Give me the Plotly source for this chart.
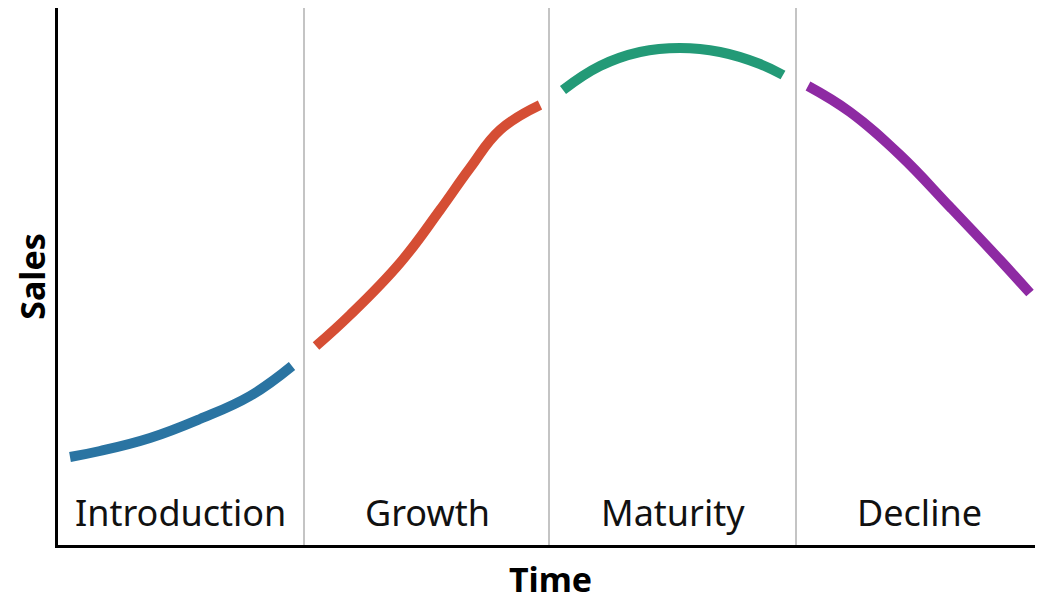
import plotly.graph_objects as go

# stage curves (time, sales) in arbitrary units
intro_t = [12, 42, 92, 142, 192, 234]
intro_s = [88, 94, 107, 126, 149, 179]
growth_t = [258, 292, 342, 382, 412, 442, 482]
growth_s = [199, 230, 282, 335, 377, 415, 440]
mature_t = [505, 542, 582, 622, 662, 702, 725]
mature_s = [455, 479, 493, 497, 493, 481, 470]
decline_t = [750, 792, 842, 892, 942, 972]
decline_s = [459, 433, 390, 338, 285, 252]

stages = ["Introduction", "Growth", "Maturity", "Decline"]
stage_centers = [122, 369, 615, 861]
dividers = [246, 491, 738]

colors = ["#2a74a2", "#d54e34", "#239a77", "#8e2aa3"]

fig = go.Figure()
for t, s, c in zip([intro_t, growth_t, mature_t, decline_t],
                   [intro_s, growth_s, mature_s, decline_s], colors):
    fig.add_trace(go.Scatter(x=t, y=s, mode="lines",
                             line=dict(color=c, width=10, shape="spline", smoothing=1.2),
                             showlegend=False, hoverinfo="skip"))

for d in dividers:
    fig.add_shape(type="line", x0=d, x1=d, y0=0, y1=545,
                  line=dict(color="#b0b0b0", width=1.5), layer="below")

for name, cx in zip(stages, stage_centers):
    fig.add_annotation(x=cx, y=33, text=name, showarrow=False,
                       font=dict(size=36, color="#111"))

fig.update_xaxes(range=[0, 985], showticklabels=False, showgrid=False,
                 zeroline=False, showline=True, linecolor="black", linewidth=3,
                 title=dict(text="<b>Time</b>", font=dict(size=34, color="black"), standoff=22))
fig.update_yaxes(range=[0, 537], showticklabels=False, showgrid=False,
                 zeroline=False, showline=True, linecolor="black", linewidth=3,
                 title=dict(text="<b>Sales</b>", font=dict(size=34, color="black"), standoff=0))

fig.update_layout(width=1035, height=606, plot_bgcolor="white", paper_bgcolor="white",
                  margin=dict(l=50, r=0, t=0, b=69),
                  font=dict(family="Noto Sans"))

fig.write_html("out.html")
